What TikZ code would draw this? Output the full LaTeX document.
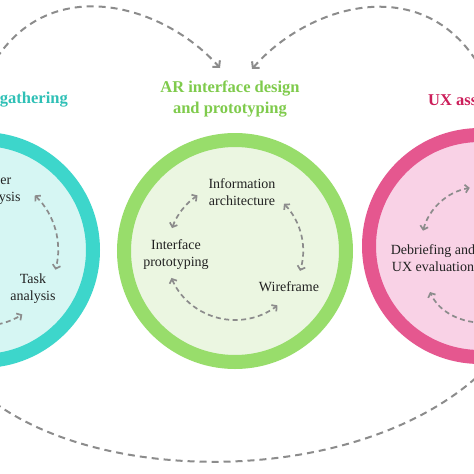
\documentclass[tikz,border=0pt]{standalone}
\usepackage{fontspec}
\setmainfont{Liberation Serif}
\usetikzlibrary{arrows.meta}
\definecolor{tealring}{HTML}{3DD6CB}
\definecolor{tealfill}{HTML}{D6F6F3}
\definecolor{tealtxt}{HTML}{2FC0B6}
\definecolor{greenring}{HTML}{98DD6B}
\definecolor{greenfill}{HTML}{EBF6E1}
\definecolor{greentxt}{HTML}{7FCB4C}
\definecolor{pinkring}{HTML}{E5578F}
\definecolor{pinkfill}{HTML}{F9D2E6}
\definecolor{pinktxt}{HTML}{CC1E5A}
\definecolor{dashgray}{HTML}{8C8C8C}
\definecolor{txtdark}{HTML}{222222}
\tikzset{
  ring/.style={circle, draw=#1ring, fill=#1fill, line width=14pt, minimum size=222pt, inner sep=0pt},
  lbl/.style={font=\fontsize{14}{17}\selectfont, align=center, text=txtdark, inner sep=0pt},
  ttl/.style={font=\bfseries\fontsize{16.5}{21}\selectfont, align=center, inner sep=0pt},
  barb/.tip={Straight Barb[length=3.5pt,width=8pt]},
  bigbarb/.tip={Straight Barb[length=4.5pt,width=10pt]},
  cyc/.style={draw=dashgray, line width=1.7pt, dash pattern=on 5pt off 3.5pt, barb-barb},
  loop/.style={draw=dashgray, line width=2pt, dash pattern=on 7pt off 5pt},
}
\begin{document}
\begin{tikzpicture}[x=1pt,y=-1pt]
\useasboundingbox (0,0) rectangle (474,474);
\clip (0,0) rectangle (474,474);
\fill[white] (0,0) rectangle (474,474);

% circles
\node[ring=teal]  (cL) at (-18,250) {};
\node[ring=green] (cM) at (235,251) {};
\node[ring=pink]  (cR) at (480,246) {};

% titles
\node[ttl, text=tealtxt, anchor=east] (tL) at (68,100) {Requirements gathering};
\node[ttl, text=greentxt] (tM) at (230,99) {AR interface design\\and prototyping};
\node[ttl, text=pinktxt, anchor=west] (tR) at (428,100) {UX assessment};

% labels
\node[lbl] (ua) at (-2,190) {User\\analysis};
\node[lbl] (ta) at (33,289) {Task\\analysis};
\node[lbl] (ia) at (242,192) {Information\\architecture};
\node[lbl] (ip) at (176,255) {Interface\\prototyping};
\node[lbl] (wf) at (289,287) {Wireframe};
\node[lbl] (de) at (433,258) {Debriefing and\\UX evaluation};

% inner cycles: middle
\draw[cyc] ([shift={(200:67)}]cM.center) arc[start angle=200, end angle=236, radius=67];
\draw[cyc] ([shift={(-44:68)}]cM.center) arc[start angle=-44, end angle=17, radius=68];
\draw[cyc] ([shift={(157:69)}]cM.center) arc[start angle=157, end angle=52, radius=69];
% left
\draw[cyc] ([shift={(-46:76)}]cL.center) arc[start angle=-46, end angle=15, radius=76];
\draw[cyc] ([shift={(150:76)}]cL.center) arc[start angle=150, end angle=58, radius=76];
% right
\draw[cyc] ([shift={(195:59)}]cR.center) arc[start angle=195, end angle=260, radius=59];
\coordinate (rb) at (492,323);
\coordinate (rh) at (430,292);
\draw[cyc] (rb) .. controls (458,324) and (438,310) .. (rh);

% outer loops
\coordinate (topL) at (220,68);
\coordinate (topR) at (252,69);
\coordinate (startL) at (-20,90);
\coordinate (startR) at (492,92);
\draw[loop, -bigbarb] (startL) .. controls (30,-35) and (160,0) .. (topL);
\draw[loop, -bigbarb] (startR) .. controls (442,-35) and (312,0) .. (topR);
\coordinate (botL) at (-40,370);
\coordinate (botR) at (510,340);
\draw[loop] (botL) .. controls (60,497) and (400,497) .. (botR);
\end{tikzpicture}
\end{document}
